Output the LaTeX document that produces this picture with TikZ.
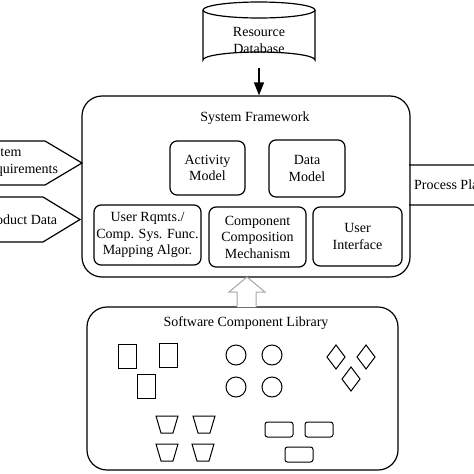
\documentclass[tikz,border=0pt]{standalone}
\usepackage{fontspec}
\setmainfont{Liberation Serif}
\usetikzlibrary{arrows.meta}
\tikzset{
  lw/.style={line width=1.2pt},
  txt/.style={font=\fontsize{14}{16.5}\selectfont, align=center, inner sep=0pt},
  outerbox/.style={lw, draw, rounded corners=20pt, minimum width=#1, inner sep=0pt},
  innerbox/.style={lw, draw, rounded corners=7pt, txt},
  shp/.style={line width=1pt, draw},
  hollow/.style={line width=1pt, draw=gray!70, fill=white},
}
\begin{document}
\begin{tikzpicture}[x=1pt,y=-1pt]
\useasboundingbox (0,0) rectangle (474,474);
\clip (0,0) rectangle (474,474);
% Resource database cylinder
\draw[lw, fill=white] (203,10) -- (203,60) arc[start angle=180,end angle=360,x radius=56,y radius=8] -- (315,10);
\draw[lw] (259,10) ellipse[x radius=56, y radius=8];
\node[txt] (db) at (259,40.5) {Resource\\Database};
\coordinate (dbb) at (259,68);
% Framework
\node[outerbox=328pt, minimum height=181pt] (fw) at (246,186.5) {};
\node[txt] (fwt) at (255,118) {System Framework};
\draw[lw, -{Triangle[length=13pt,width=10pt]}] (dbb) -- (dbb |- fw.north);
\node[innerbox, minimum width=75pt, minimum height=54pt] (act) at (207.5,168) {Activity\\Model};
\node[innerbox, minimum width=76pt, minimum height=57pt] (dat) at (307,168.5) {Data\\Model};
\node[innerbox, minimum width=107pt, minimum height=60pt] (usr) at (147.5,235) {User Rqmts./\\Comp. Sys. Func.\\Mapping Algor.};
\node[innerbox, minimum width=97pt, minimum height=60pt] (comp) at (257.5,237) {Component\\Composition\\Mechanism};
\node[innerbox, minimum width=89pt, minimum height=59pt] (ui) at (357.5,236.5) {User\\Interface};
% Left input arrows
\draw[lw] (-30,141) -- (45,141) -- (82,163) -- (45,185) -- (-30,185);
\node[txt, anchor=west, align=left] (sysreq) at (-20,162) {System\\Requirements};
\draw[lw] (-30,197) -- (43,197) -- (80,219.5) -- (43,242) -- (-30,242);
\node[txt, anchor=west] (prod) at (-16.5,219.5) {Product Data};
% Process plan output
\draw[lw, rounded corners=8pt] (409,165) -- (495,165) -- (495,205) -- (409,205);
\node[txt, anchor=west] (pp) at (414,185) {Process Plan};
% Library
\node[outerbox=311pt, minimum height=163pt] (lib) at (242.5,388.5) {};
\node[txt] (libt) at (246,323) {Software Component Library};
% hollow arrow
\draw[hollow] (237,307) -- (237,292) -- (229,292) -- (247,277) -- (265,292) -- (256,292) -- (256,307);
% rectangles
\draw[shp] (118,344) rectangle (136,368);
\draw[shp] (159,343) rectangle (177,367);
\draw[shp] (137,374) rectangle (155,398);
% circles
\foreach \cx/\cy in {236/355, 272/355, 236/387, 272/387}
  \draw[shp] (\cx,\cy) circle[radius=10];
% diamonds
\foreach \cx/\cy in {336/357, 366/357, 351/379}
  \draw[shp] (\cx-9,\cy) -- (\cx,\cy-12) -- (\cx+9,\cy) -- (\cx,\cy+12) -- cycle;
% trapezoids
\foreach \lx/\ty in {156/416, 193/416, 156/444, 192/444}
  \draw[shp] (\lx,\ty) -- (\lx+22,\ty) -- (\lx+17,\ty+17) -- (\lx+5,\ty+17) -- cycle;
% small rounded rectangles
\foreach \lx/\ty in {265/422, 305/422, 285/447}
  \draw[shp, rounded corners=2.5pt] (\lx,\ty) rectangle (\lx+28,\ty+15);
\end{tikzpicture}
\end{document}
